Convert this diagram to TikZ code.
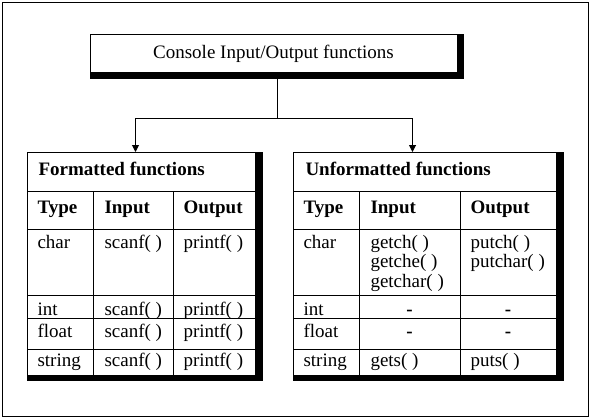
\documentclass[tikz,border=0pt]{standalone}
\usepackage{fontspec}
\setmainfont{Liberation Serif}
\usetikzlibrary{arrows.meta}
\def\tabfont{\fontsize{19}{19.5}\selectfont}
\tikzset{
	cell/.style={anchor=base west, inner sep=0pt, font=\tabfont},
	head/.style={cell, font=\tabfont\bfseries},
	nix/.style={anchor=base, inner sep=0pt, font=\tabfont\bfseries},
	link/.style={-{Triangle[length=7pt,width=7pt]}}
}

\begin{document}
\begin{tikzpicture}[x=1pt, y=-1pt, line width=1pt]
		%%%%% START %%%%%
		\useasboundingbox (0,0) rectangle (593,417);
		\draw (2,3) rectangle (588,416);
		
		\node[draw, fill=white, minimum width=367pt, minimum height=38pt, font=\tabfont] (title) at (273.5,54) {Console Input/Output functions};
		\fill (title.south west) rectangle ([xshift=6pt,yshift=-6pt]title.south east);
		\fill (title.north east) rectangle ([xshift=6pt,yshift=-6pt]title.south east);
		
		\node[draw, anchor=north west, minimum width=228pt, minimum height=223pt, inner sep=0pt] (ltab) at (27,152) {};
		\fill (ltab.north east) rectangle ([xshift=7pt,yshift=-5pt]ltab.south east);
		\fill (ltab.south west) rectangle ([xshift=7pt,yshift=-5pt]ltab.south east);
		\foreach \y in {191,229,295,318,349} \draw (27,\y) -- (255,\y);
		\foreach \x in {93,173} \draw (\x,191) -- (\x,375);
		
		\node[draw, anchor=north west, minimum width=263pt, minimum height=223pt, inner sep=0pt] (rtab) at (293,152) {};
		\fill (rtab.north east) rectangle ([xshift=7pt,yshift=-5pt]rtab.south east);
		\fill (rtab.south west) rectangle ([xshift=7pt,yshift=-5pt]rtab.south east);
		\foreach \y in {191,229,295,318,349} \draw (293,\y) -- (556,\y);
		\foreach \x in {359,460} \draw (\x,191) -- (\x,375);
		
		\coordinate (split) at (277,118);
		\draw (title.south -| split) -- (split);
		\draw[link] (split) -| ([xshift=-6pt]ltab.north);
		\draw[link] (split) -| ([xshift=-12.5pt]rtab.north);
		
		% formatted
		\node[head] (ltitle) at (38,175) {Formatted functions};
		\node[head] (ltype) at (37,213) {Type};
		\node[head] (lin) at (104,213) {Input};
		\node[head] (lout) at (183,213) {Output};
		\foreach \n/\y in {char/248, int/315, float/337, string/366} {
			\node[cell] (ltype-\n) at (37,\y) {\n};
			\node[cell] (lin-\n) at (104,\y) {scanf( )};
			\node[cell] (lout-\n) at (183,\y) {printf( )};
		}
		
		% unformatted
		\node[head] (rtitle) at (305,175) {Unformatted functions};
		\node[head] (rtype) at (303,213) {Type};
		\node[head] (rin) at (370,213) {Input};
		\node[head] (rout) at (470,213) {Output};
		\node[cell] (rtype-char) at (303,248) {char};
		\node[cell] (rin-char1) at (370,248) {getch( )};
		\node[cell] (rin-char2) at (370,267.5) {getche( )};
		\node[cell] (rin-char3) at (370,287) {getchar( )};
		\node[cell] (rout-char1) at (470,248) {putch( )};
		\node[cell] (rout-char2) at (470,267.5) {putchar( )};
		\foreach \n/\y in {int/315, float/337} {
			\node[cell] (rtype-\n) at (303,\y) {\n};
			\node[nix] (rin-\n) at (409.5,\y) {-};
			\node[nix] (rout-\n) at (508,\y) {-};
		}
		\node[cell] (rtype-string) at (303,366) {string};
		\node[cell] (rin-string) at (370,366) {gets( )};
		\node[cell] (rout-string) at (470,366) {puts( )};
		%%%%% END %%%%%
\end{tikzpicture}
\end{document}
